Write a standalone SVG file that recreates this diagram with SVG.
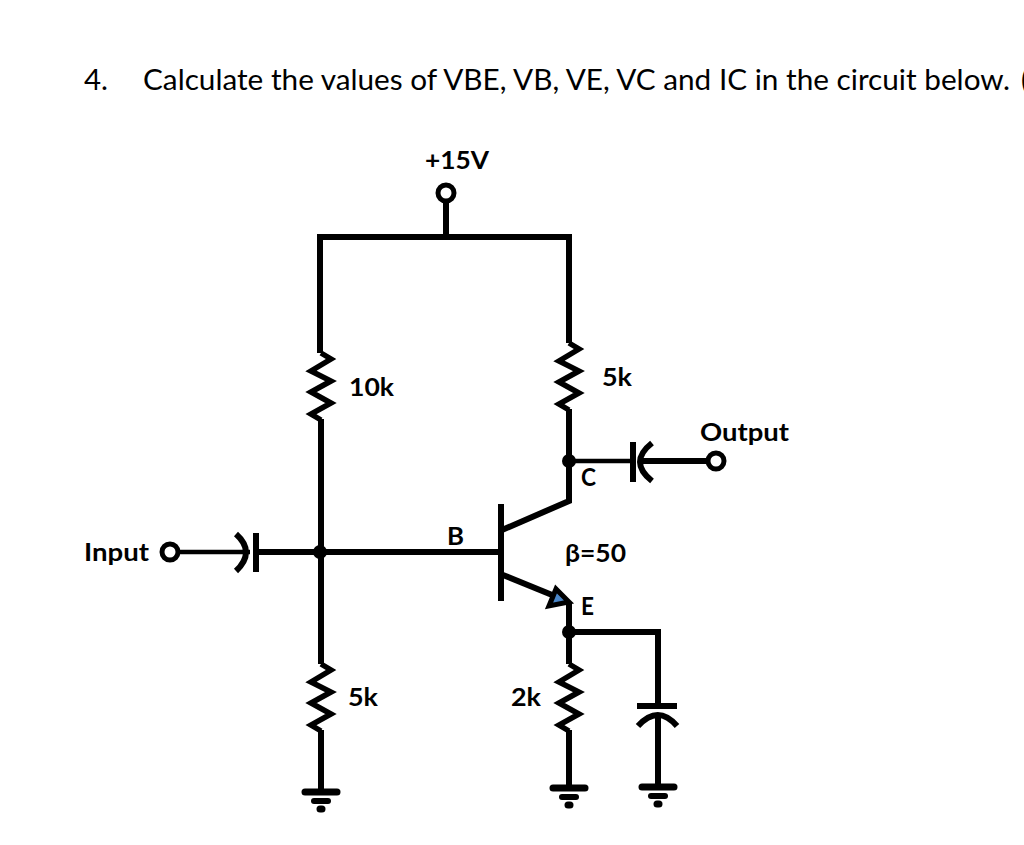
<svg xmlns="http://www.w3.org/2000/svg" xmlns:xlink="http://www.w3.org/1999/xlink" width="1024" height="845" viewBox="0 0 1024 845">
<style>
.w{fill:none;stroke:#000;stroke-width:6;stroke-linejoin:miter}
.z{stroke-width:5.5}
.t{stroke-width:4.5}
.g{fill:none;stroke:#000;stroke-linecap:round}
.d{fill:#000}
.o{fill:#fff;stroke:#000;stroke-width:5}
text{font-family:Lato,"Open Sans","Liberation Sans",sans-serif;fill:#000}
.l{font-size:25px;font-weight:700}
.h{font-size:28px}
</style>
<defs>
<polyline id="res" class="w z" points="0,0 10,6 -10,18 10,28 -10,39 10,50 -10,61 0,67"/>
<g id="gnd">
<path class="g" stroke-width="7" d="M-16,0H16"/>
<path class="g" stroke-width="6" d="M-7,9H7"/>
<path class="g" stroke-width="7" d="M-1,17H1"/>
</g>
</defs>
<rect width="1024" height="845" fill="#fff"/>
<g id="title">
<text class="h" x="84" y="90" textLength="24" lengthAdjust="spacingAndGlyphs">4.</text>
<text class="h" x="143" y="90" textLength="867" lengthAdjust="spacingAndGlyphs">Calculate the values of VBE, VB, VE, VC and IC in the circuit below.</text>
<text class="h" x="1021" y="90">(</text>
</g>
<g id="connectors">
<path class="w" d="M320,353V237H569V343"/>
<path class="w" d="M446,201V237"/>
<path class="w" d="M321,419V664M321,730V790"/>
<path class="w" d="M569,409V501L502,530"/>
<path class="w t" d="M178,552H250"/>
<path class="w" d="M256,552H500"/>
<path class="w t" d="M569,461H633"/>
<path class="w" d="M640,461H708"/>
<path class="w" d="M503,575L562,599"/>
<path class="w" d="M569,602V664M569,730V786"/>
<path class="w" d="M569,632H658V705"/>
<path class="w" d="M658,714V785"/>
</g>
<g id="vcc"><circle class="o" cx="446" cy="193" r="8"/><text class="l" x="425" y="169" textLength="64" lengthAdjust="spacingAndGlyphs">+15V</text></g>
<g id="r1"><use xlink:href="#res" x="321" y="353"/><text class="l" x="349" y="396" textLength="45" lengthAdjust="spacingAndGlyphs">10k</text></g>
<g id="r2"><use xlink:href="#res" x="321" y="664"/><text class="l" x="348" y="706" textLength="30" lengthAdjust="spacingAndGlyphs">5k</text></g>
<g id="rc"><use xlink:href="#res" x="569" y="343"/><text class="l" x="602" y="386" textLength="30" lengthAdjust="spacingAndGlyphs">5k</text></g>
<g id="re"><use xlink:href="#res" x="569" y="664"/><text class="l" x="511" y="706" textLength="30" lengthAdjust="spacingAndGlyphs">2k</text></g>
<g id="input"><circle class="o" cx="170" cy="552" r="8"/><text class="l" x="84" y="561" textLength="65" lengthAdjust="spacingAndGlyphs">Input</text></g>
<g id="c-in"><path class="w" d="M236,534Q256,552 236,571"/><path class="w" d="M256,533V572"/></g>
<g id="node-b"><circle class="d" cx="320" cy="552" r="7"/></g>
<g id="transistor">
<path class="w" d="M501,504V601"/>
<polygon points="569,602 556,589 549,606" fill="#4a86c8" stroke="#000" stroke-width="5"/>
<text class="l" x="447" y="545" textLength="17" lengthAdjust="spacingAndGlyphs">B</text>
<text class="l" x="581" y="486" font-size="22" textLength="15" lengthAdjust="spacingAndGlyphs">C</text>
<text class="l" x="581" y="615" textLength="13" lengthAdjust="spacingAndGlyphs">E</text>
<text class="l" x="565" y="562" textLength="61" lengthAdjust="spacingAndGlyphs">β=50</text>
</g>
<g id="node-c"><circle class="d" cx="569" cy="461" r="7"/></g>
<g id="node-e"><circle class="d" cx="569" cy="632" r="7"/></g>
<g id="c-out"><path class="w" d="M633,442V482"/><path class="w" d="M652,443Q628,462 652,481"/></g>
<g id="output"><circle class="o" cx="716" cy="461" r="8"/><text class="l" x="700" y="441" textLength="89" lengthAdjust="spacingAndGlyphs">Output</text></g>
<g id="c-e"><path class="w" d="M637,706H677"/><path class="w" d="M638,726Q658,704 677,726"/></g>
<g id="gnd1"><use xlink:href="#gnd" x="321" y="792"/></g>
<g id="gnd2"><use xlink:href="#gnd" x="569" y="788"/></g>
<g id="gnd3"><use xlink:href="#gnd" x="658" y="787"/></g>
</svg>
